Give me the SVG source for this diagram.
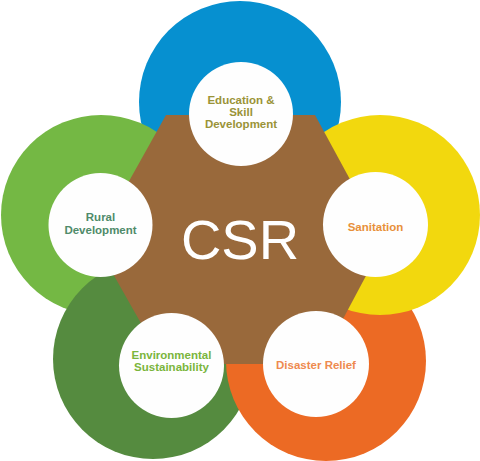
<svg xmlns="http://www.w3.org/2000/svg" width="480" height="461" viewBox="0 0 480 461">
<style>
.inner{fill:#FEFEFE}
.lbl{font-family:"Liberation Sans",Arial,sans-serif;font-weight:bold;font-size:11.5px;text-anchor:middle}
.csr{font-family:"Liberation Sans",Arial,sans-serif;font-size:56px;fill:#FFFFFF;text-anchor:middle}
</style>
<rect width="480" height="461" fill="#FFFFFF"/>
<g id="petals">
<circle cx="240" cy="102" r="101" fill="#0690D0"/>
<circle cx="101" cy="215" r="100" fill="#74B844"/>
<circle cx="153" cy="359" r="100" fill="#558B3F"/>
<circle cx="326" cy="361" r="100" fill="#EC6A24"/>
<circle cx="380" cy="215" r="100" fill="#F2D80E"/>
</g>
<g id="hub">
<polygon points="166,115 315,115 384,242 319,364 164,364 95,242" fill="#99693B"/>
<text class="csr" x="240" y="259">CSR</text>
</g>
<g id="education">
<circle class="inner" cx="241" cy="114" r="52"/>
<text class="lbl" fill="#9A9337" x="241" y="104">Education &amp;</text>
<text class="lbl" fill="#9A9337" x="241" y="116">Skill</text>
<text class="lbl" fill="#9A9337" x="241" y="128">Development</text>
</g>
<g id="rural">
<circle class="inner" cx="100.5" cy="225" r="52"/>
<text class="lbl" fill="#4F8B6A" x="100.5" y="221">Rural</text>
<text class="lbl" fill="#4F8B6A" x="100.5" y="233.5">Development</text>
</g>
<g id="sanitation">
<circle class="inner" cx="375.5" cy="224.5" r="52.5"/>
<text class="lbl" fill="#E8903A" x="375.5" y="231">Sanitation</text>
</g>
<g id="environmental">
<circle class="inner" cx="171.5" cy="365.5" r="52.5"/>
<text class="lbl" fill="#7AB53C" x="171.5" y="358.5">Environmental</text>
<text class="lbl" fill="#7AB53C" x="171.5" y="371">Sustainability</text>
</g>
<g id="disaster">
<circle class="inner" cx="316" cy="364" r="53"/>
<text class="lbl" fill="#EE8A4F" x="316" y="368.5">Disaster Relief</text>
</g>
</svg>
